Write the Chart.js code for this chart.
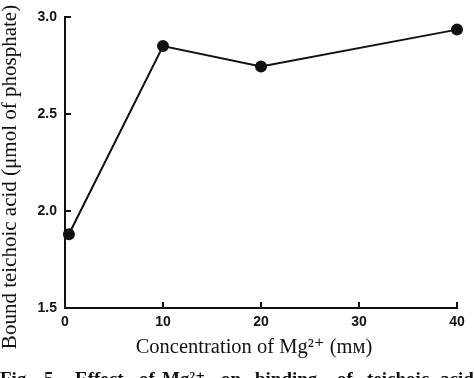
<!DOCTYPE html>
<html>
<head>
<meta charset="utf-8">
<script src="https://cdn.jsdelivr.net/npm/chart.js@4"></script>
<style>
html,body{margin:0;padding:0;background:#fff;}
#wrap{width:474px;height:378px;position:relative;overflow:hidden;}
</style>
</head>
<body>
<div id="wrap"><canvas id="c" width="474" height="378"></canvas></div>
<script>
const concentrations = [0.4, 10, 20, 40];
const boundTeichoic = [1.88, 2.85, 2.745, 2.935];
const xTicks = [0, 10, 20, 30, 40];
const yTicks = [1.5, 2.0, 2.5, 3.0];
const xTitle = 'Concentration of Mg\u00B2\u207A (m\u1D0D)';
const yTitle = 'Bound teichoic acid (\u03BCmol of phosphate)';
const captionWords = ['Fig.', '5.', 'Effect', 'of', 'Mg\u00B2\u207A', 'on', 'binding', 'of', 'teichoic', 'acid'];
const captionX = [0, 44, 75, 139, 162, 221, 255, 337, 367, 440];

const SERIF = '"Liberation Serif", "DejaVu Serif", serif';

const decorations = {
  id: 'decorations',
  afterDraw(chart) {
    const ctx = chart.ctx;
    const xs = chart.scales.x, ys = chart.scales.y;
    const area = chart.chartArea;
    ctx.save();
    ctx.strokeStyle = '#111';
    ctx.lineWidth = 2;
    xTicks.forEach(v => {
      const px = xs.getPixelForValue(v);
      ctx.beginPath();
      ctx.moveTo(px, area.bottom);
      ctx.lineTo(px, area.bottom - 6);
      ctx.stroke();
    });
    yTicks.forEach(v => {
      const py = ys.getPixelForValue(v);
      ctx.beginPath();
      ctx.moveTo(area.left, py);
      ctx.lineTo(area.left + 6, py);
      ctx.stroke();
    });
    ctx.fillStyle = '#111';
    // x-axis title
    ctx.font = '20.5px ' + SERIF;
    ctx.textAlign = 'center';
    ctx.textBaseline = 'alphabetic';
    ctx.fillText(xTitle, 254, 353);
    // y-axis title
    ctx.save();
    ctx.translate(16, 177);
    ctx.rotate(-Math.PI / 2);
    ctx.font = '21px ' + SERIF;
    ctx.fillText(yTitle, 0, 0);
    ctx.restore();
    // caption (clipped at bottom edge)
    ctx.font = 'bold 19px ' + SERIF;
    ctx.textAlign = 'left';
    captionWords.forEach((w, i) => ctx.fillText(w, captionX[i], 385));
    ctx.restore();
  }
};

new Chart(document.getElementById('c'), {
  type: 'line',
  data: {
    datasets: [{
      data: concentrations.map((x, i) => ({x: x, y: boundTeichoic[i]})),
      borderColor: '#111',
      backgroundColor: '#111',
      borderWidth: 2,
      pointRadius: 5,
      pointBackgroundColor: '#111',
      pointBorderColor: '#111',
      tension: 0,
      clip: false
    }]
  },
  options: {
    responsive: false,
    animation: false,
    devicePixelRatio: 1,
    layout: {padding: {top: 17, right: 17, bottom: 0, left: 0}},
    plugins: {legend: {display: false}, tooltip: {enabled: false}},
    scales: {
      x: {
        type: 'linear', min: 0, max: 40,
        afterFit(s) { s.height = 70; },
        afterBuildTicks(s) { s.ticks = xTicks.map(v => ({value: v})); },
        grid: {display: false, drawTicks: false},
        border: {display: true, color: '#111', width: 2},
        ticks: {color: '#111', padding: 6, font: {family: '"Liberation Sans", Arial, sans-serif', size: 14, weight: 'bold'}, maxRotation: 0},
        title: {display: false}
      },
      y: {
        type: 'linear', min: 1.5, max: 3.0,
        afterFit(s) { s.width = 65; },
        afterBuildTicks(s) { s.ticks = yTicks.map(v => ({value: v})); },
        grid: {display: false, drawTicks: false},
        border: {display: true, color: '#111', width: 2},
        ticks: {color: '#111', padding: 8, font: {family: '"Liberation Sans", Arial, sans-serif', size: 14, weight: 'bold'}, callback: v => Number(v).toFixed(1)},
        title: {display: false}
      }
    }
  },
  plugins: [decorations]
});
</script>
</body>
</html>
